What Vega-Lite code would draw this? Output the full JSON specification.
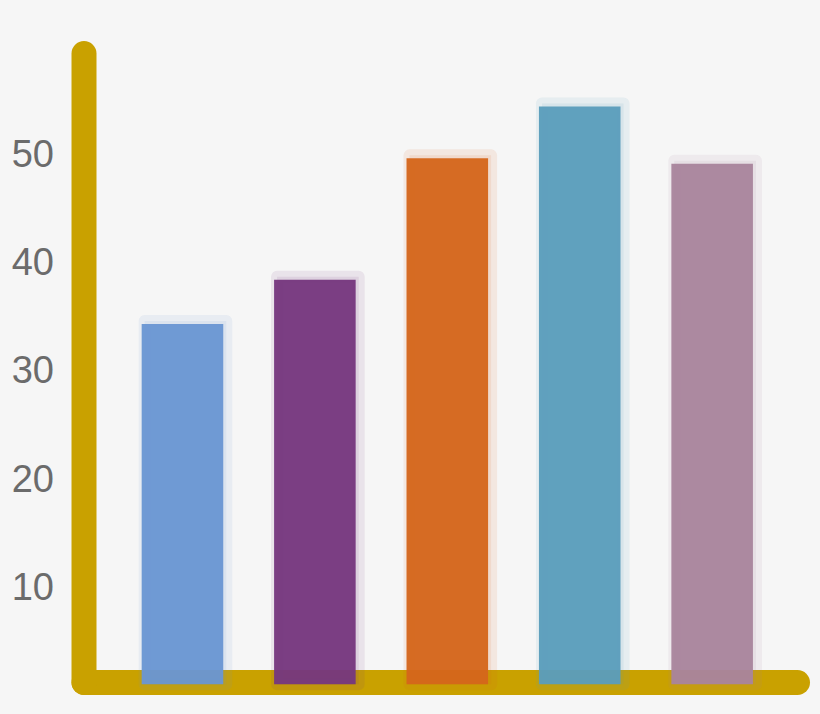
{
  "$schema": "https://vega.github.io/schema/vega-lite/v6.json",
  "width": 713.5,
  "height": 629,
  "autosize": {"type": "none"},
  "padding": {"left": 83.5, "top": 53, "right": 23, "bottom": 32},
  "background": "#f6f6f6",
  "view": {"stroke": null},
  "data": {
    "values": [
      {"item": "A", "value": 34.4},
      {"item": "B", "value": 38.5},
      {"item": "C", "value": 49.7},
      {"item": "D", "value": 54.5},
      {"item": "E", "value": 49.2}
    ]
  },
  "encoding": {
    "x": {
      "field": "item",
      "type": "nominal",
      "sort": null,
      "scale": {"paddingInner": 0.384, "paddingOuter": 0.386, "align": 0.569},
      "axis": {
        "title": null,
        "labels": false,
        "ticks": false,
        "tickSize": 0,
        "domainColor": "#c9a100",
        "domainWidth": 25,
        "domainCap": "round"
      }
    },
    "y": {
      "field": "value",
      "type": "quantitative",
      "scale": {"domain": [1.35, 59.43], "zero": false, "nice": false},
      "axis": {
        "title": null,
        "values": [10, 20, 30, 40, 50],
        "grid": false,
        "ticks": false,
        "tickSize": 0,
        "labelPadding": 30,
        "labelFont": "Liberation Sans",
        "labelFontSize": 38,
        "labelColor": "#6b6b6b",
        "domainColor": "#c9a100",
        "domainWidth": 25,
        "domainCap": "round"
      }
    },
    "y2": {"datum": 1.15},
    "color": {
      "field": "item",
      "type": "nominal",
      "sort": null,
      "legend": null,
      "scale": {"range": ["#6a96d2", "#76377e", "#d4661b", "#5b9dbb", "#a9849c"]}
    }
  },
  "layer": [
    {
      "mark": {
        "type": "bar",
        "fillOpacity": 0.1,
        "strokeWidth": 12,
        "strokeOpacity": 0.1,
        "strokeJoin": "round",
        "xOffset": 3,
        "yOffset": -3
      },
      "encoding": {"stroke": {"field": "item", "type": "nominal", "sort": null, "legend": null, "scale": {"range": ["#6a96d2", "#76377e", "#d4661b", "#5b9dbb", "#a9849c"]}}}
    },
    {
      "mark": {"type": "bar", "opacity": 0.96}
    }
  ]
}
